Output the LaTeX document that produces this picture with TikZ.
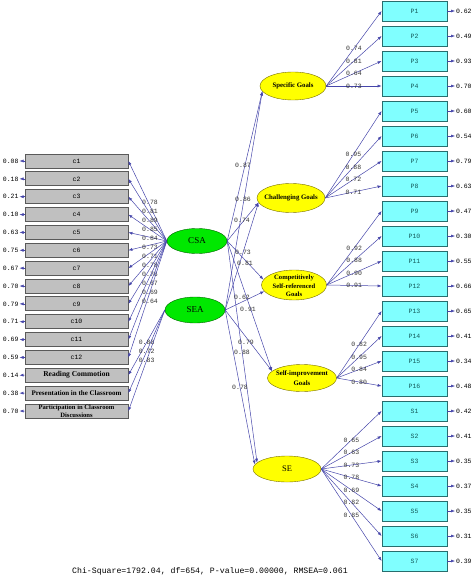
\documentclass[tikz,border=0pt]{standalone}
\usepackage{fontspec}
\setmainfont{Liberation Serif}
\setmonofont{Liberation Mono}
\usetikzlibrary{arrows.meta,shapes.geometric}
\definecolor{ln}{RGB}{70,70,170}
\definecolor{gbox}{RGB}{192,192,192}
\definecolor{gbord}{RGB}{90,90,90}
\definecolor{cbox}{RGB}{128,255,255}
\definecolor{cbord}{RGB}{40,110,110}
\definecolor{ctext}{RGB}{20,90,90}
\definecolor{grn}{RGB}{0,232,0}
\definecolor{grnb}{RGB}{0,100,0}
\definecolor{yel}{RGB}{255,255,0}
\definecolor{yelb}{RGB}{120,110,0}
\tikzset{
 obsl/.style={draw=gbord, fill=gbox, line width=0.8pt, minimum width=103pt, minimum height=14pt, inner sep=0pt, align=center, font=\ttfamily\fontsize{6.5}{7}\selectfont},
 obsr/.style={draw=cbord, fill=cbox, line width=0.8pt, minimum width=65pt, minimum height=20pt, inner sep=0pt, text=ctext, font=\ttfamily\fontsize{6.5}{7}\selectfont},
 lat/.style={ellipse, draw=grnb, fill=grn, inner sep=0pt, minimum width=60pt, minimum height=25pt, font=\fontsize{9}{10}\selectfont},
 fac/.style={ellipse, draw=yelb, fill=yel, inner sep=0pt, minimum width=66pt, minimum height=28pt},
 factext/.style={inner sep=0pt, align=center, font=\bfseries\fontsize{6.8}{8}\selectfont},
 lab/.style={font=\ttfamily\fontsize{6.5}{7}\selectfont, text=black!80, inner sep=0pt},
 err/.style={font=\ttfamily\fontsize{6.5}{7}\selectfont, inner sep=0pt, outer sep=1pt},
 ld/.style={draw=ln, line width=0.5pt, -{Latex[length=4pt,width=3pt]}},
}
\begin{document}
\begin{tikzpicture}[x=1pt,y=-1pt]
\useasboundingbox (0,0) rectangle (474,577);
% left observed
\foreach \i/\e in {1/0.08,2/0.18,3/0.21,4/0.10,5/0.63,6/0.75,7/0.67,8/0.70,9/0.79,10/0.71,11/0.69,12/0.59} {
  \node[obsl] (c\i) at (76.5,{161+17.86*(\i-1)}) {c\i};
  \node[err, anchor=east] (ec\i) at (19.5,{161+17.86*(\i-1)}) {\e};
  \draw[ld] (c\i.west) -- (ec\i.east);
}
\node[obsl, font=\bfseries\fontsize{7.5}{8}\selectfont] (c13) at (76.5,375) {Reading Commotion};
\node[obsl, font=\bfseries\fontsize{7}{8}\selectfont] (c14) at (76.5,393) {Presentation in the Classroom};
\node[obsl, font=\bfseries\fontsize{6.6}{7.5}\selectfont] (c15) at (76.5,411) {Participation in Classroom\\Discussions};
\foreach \i/\e in {13/0.14,14/0.38,15/0.70} {
  \node[err, anchor=east] (ec\i) at (19.5,{161+17.86*(\i-1)}) {\e};
  \draw[ld] (c\i.west) -- (ec\i.east);
}
% right observed
\foreach \n/\e [count=\k] in {P1/0.62,P2/0.49,P3/0.93,P4/0.70,P5/0.60,P6/0.54,P7/0.79,P8/0.63,P9/0.47,P10/0.30,P11/0.55,P12/0.66,P13/0.65,P14/0.41,P15/0.34,P16/0.48,S1/0.42,S2/0.41,S3/0.35,S4/0.37,S5/0.35,S6/0.31,S7/0.39} {
  \node[obsr] (r\k) at (414.5,{11+25*(\k-1)}) {\n};
  \node[err, anchor=west] (er\k) at (455,{11+25*(\k-1)}) {\e};
  \draw[ld] (r\k.east) -- (er\k.west);
}
% latent
\node[lat] (csa) at (197,241) {CSA};
\node[lat, minimum height=26pt] (sea) at (195,310) {SEA};
\node[fac] (spec) at (293,86) {};
\node[factext] at (spec) {Specific Goals};
\node[fac, minimum width=68pt, minimum height=29pt] (chal) at (291,198) {};
\node[factext] at (chal) {Challenging Goals};
\node[fac, minimum width=65pt, minimum height=30pt] (comp) at (294,285) {};
\node[factext, font=\bfseries\fontsize{6.6}{8.3}\selectfont] at ([yshift=-1pt]comp) {Competitively\\Self-referenced\\Goals};
\node[fac, minimum width=69pt, minimum height=27pt] (self) at (302,378) {};
\node[factext, font=\bfseries\fontsize{6.8}{10}\selectfont] at (self) {Self-improvement\\Goals};
\node[fac, minimum width=68pt, minimum height=26pt] (se) at (287,469) {};
\node[inner sep=0pt, font=\fontsize{8.5}{9}\selectfont] at (se) {SE};
% CSA loadings
\foreach \i/\l in {1/0.78,2/0.81,3/0.89,4/0.85,5/0.84,6/0.73,7/0.71,8/0.78,9/0.76,10/0.67,11/0.69,12/0.64} {
  \draw[ld] (csa.west) -- (c\i.east);
  \node[lab] (lc\i) at (150,{202+9*(\i-1)}) {\l};
}
\foreach \i/\l in {13/0.88,14/0.72,15/0.83}
  \draw[ld] (sea.west) -- node[lab]{\l} (c\i.east);
% first-order loadings
\foreach \k/\l in {1/0.74,2/0.81,3/0.64,4/0.73}
  \draw[ld] (spec.east) -- node[lab]{\l} (r\k.west);
\foreach \k/\l in {5/0.95,6/0.88,7/0.72,8/0.71}
  \draw[ld] (chal.east) -- node[lab]{\l} (r\k.west);
\foreach \k/\l in {9/0.92,10/0.88,11/0.90,12/0.91}
  \draw[ld] (comp.east) -- node[lab]{\l} (r\k.west);
\foreach \k/\l in {13/0.82,14/0.95,15/0.84,16/0.80}
  \draw[ld] (self.east) -- node[lab]{\l} (r\k.west);
\foreach \k/\l in {17/0.65,18/0.63,19/0.73,20/0.78,21/0.69,22/0.82,23/0.85}
  \draw[ld] (se.east) -- node[lab]{\l} (r\k.west);
% structural paths
\draw[ld] (csa.east) -- (spec.190);
\draw[ld] (sea.east) -- (spec.190);
\draw[ld] (csa.east) -- (chal.188);
\draw[ld] (sea.east) -- (chal.188);
\draw[ld] (csa.east) -- (comp.170);
\draw[ld] (sea.east) -- (comp.192);
\draw[ld] (csa.east) -- (self.167);
\draw[ld] (sea.east) -- (self.167);
\draw[ld] (csa.east) -- (se.168);
\draw[ld] (sea.east) -- (se.172);
\node[lab] (s1) at (243,165) {0.87};
\node[lab] (s2) at (243,199) {0.86};
\node[lab] (s3) at (242,220) {0.74};
\node[lab] (s4) at (243,252) {0.73};
\node[lab] (s5) at (245,263) {0.81};
\node[lab] (s6) at (242,297) {0.62};
\node[lab] (s7) at (248,309) {0.91};
\node[lab] (s8) at (246,342) {0.79};
\node[lab] (s9) at (242,352) {0.88};
\node[lab] (s10) at (240,387) {0.78};
% fit
\node[anchor=east, inner sep=0pt, font=\ttfamily\fontsize{8.2}{9}\selectfont] (fit) at (348,571) {Chi-Square=1792.04, df=654, P-value=0.00000, RMSEA=0.061};
\end{tikzpicture}
\end{document}
